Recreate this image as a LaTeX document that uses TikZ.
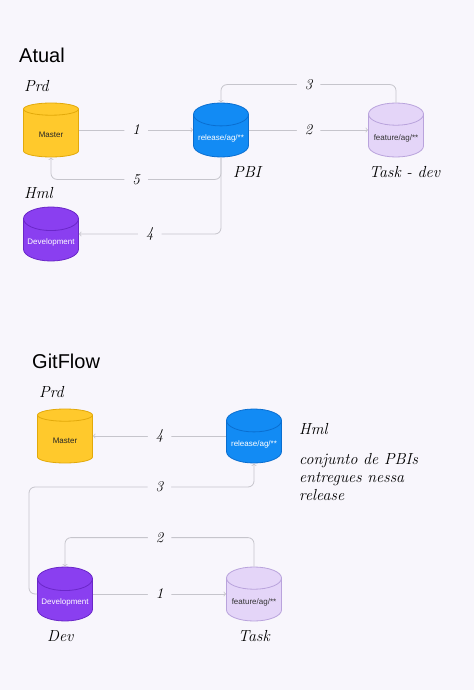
\documentclass[tikz,border=0pt]{standalone}
\usepackage{fontspec}
\newfontfamily\uifont{Liberation Sans}
\usetikzlibrary{shapes.geometric}
\usetikzlibrary{positioning}
\definecolor{bgcol}{HTML}{F8F6FC}
\definecolor{linegray}{HTML}{C6C5CC}
\definecolor{yellowfill}{HTML}{FFC92C}
\definecolor{yellowline}{HTML}{E2A90A}
\definecolor{bluefill}{HTML}{128BF4}
\definecolor{blueline}{HTML}{0A6ED0}
\definecolor{lilacfill}{HTML}{E4D5F8}
\definecolor{lilacline}{HTML}{B9A3DC}
\definecolor{purplefill}{HTML}{8A3FF0}
\definecolor{purpleline}{HTML}{6A27C8}
\tikzstyle{every node}+=[inner sep=0pt]
\tikzstyle{db} = [cylinder, shape border rotate=90, aspect=0.5, draw, line width=0.8pt, minimum width=55pt, minimum height=54pt, text height=9pt, text depth=0pt, anchor=shape center, font=\uifont\fontsize{8}{8}\selectfont]
\tikzstyle{line} = [draw, -to, color=linegray, line width=0.8pt, rounded corners=6pt]
\tikzstyle{num} = [fill=bgcol, text=black, font=\itshape\fontsize{15}{15}\selectfont, inner xsep=8pt, inner ysep=2pt]
\tikzstyle{tag} = [anchor=west, align=left, font=\itshape\fontsize{16}{18}\selectfont]
\tikzstyle{title} = [anchor=west, font=\uifont\fontsize{20}{24}\selectfont]

\begin{document}
\begin{tikzpicture}[x=1pt, y=1pt]
            \fill [bgcol] (0,0) rectangle (474,-690);
            \useasboundingbox (0,0) rectangle (474,-690);
            % Atual
            \node [title] (atual) at (19,-55) {Atual};
            \node [db, fill=yellowfill, draw=yellowline, text=black!85] (master) at (51,-130) {Master};
            \node [db, fill=bluefill, draw=blueline, text=white] (release) at (221,-130) {release/ag/**};
            \node [db, fill=lilacfill, draw=lilacline, text=black!80] (feature) at (396,-130) {feature/ag/**};
            \node [db, fill=purplefill, draw=purpleline, text=white] (dev) at (51,-234) {Development};
            \node [tag] (prd) at (24,-86) {Prd};
            \node [tag] (pbi) at (233,-172) {PBI};
            \node [tag] (taskdev) at (369,-172) {Task - dev};
            \node [tag] (hml) at (24,-193) {Hml};
            % Atual edges
            \path [line] (master.east |- master.shape center) -- node [num] {1} (release.west |- release.shape center);
            \path [line] (release.east |- release.shape center) -- node [num] {2} (feature.west |- feature.shape center);
            \path [line] (feature.north) -- ++(0,18) -| node [num, pos=0.25] {3} (release.north);
            \path [line] (release.south) -- ++(0,-22) -| node [num, pos=0.25] {5} (master.south);
            \path [line] (release.south) |- node [num, pos=0.75] {4} (dev.east |- dev.shape center);
            % GitFlow
            \node [title] (gitflow) at (32,-361) {GitFlow};
            \node [db, fill=yellowfill, draw=yellowline, text=black!85] (gmaster) at (65,-436) {Master};
            \node [db, fill=bluefill, draw=blueline, text=white] (grelease) at (254,-436) {release/ag/**};
            \node [db, fill=purplefill, draw=purpleline, text=white] (gdev) at (65,-594) {Development};
            \node [db, fill=lilacfill, draw=lilacline, text=black!80] (gfeature) at (254,-594) {feature/ag/**};
            \node [tag] (gprd) at (39,-392) {Prd};
            \node [tag] (ghml) at (299,-429) {Hml};
            \node [tag] (gnote) at (299,-477) {conjunto de PBIs\\entregues nessa\\release};
            \node [tag] (gdevtag) at (47,-636) {Dev};
            \node [tag] (gtask) at (238,-636) {Task};
            \coordinate (bend3) at (29,-487);
            % GitFlow edges
            \path [line] (grelease.west |- grelease.shape center) -- node [num] {4} (gmaster.east |- gmaster.shape center);
            \path [line] (gdev.east |- gdev.shape center) -- node [num] {1} (gfeature.west |- gfeature.shape center);
            \path [line] (gfeature.north) -- ++(0,29) -| node [num, pos=0.25] {2} (gdev.north);
            \path [line] (gdev.west |- gdev.shape center) -| (bend3) -| node [num, pos=0.29] {3} (grelease.south);
\end{tikzpicture}
\end{document}
